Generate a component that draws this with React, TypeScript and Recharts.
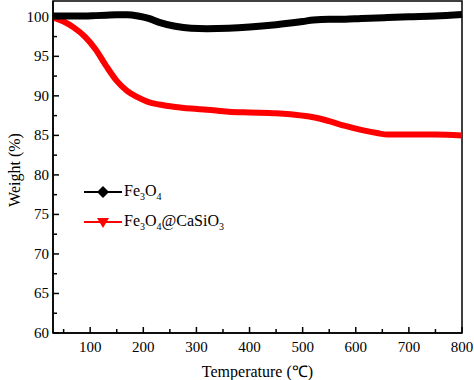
import React from 'react';
import { LineChart, Line, XAxis, YAxis, ReferenceArea } from 'recharts';

const temps = [30, 50, 70, 90, 110, 130, 150, 170, 190, 210, 230, 260, 290, 320, 360, 400, 450, 500, 520, 550, 580, 610, 640, 660, 700, 750, 800];
const fe3o4 = [100.1, 100.1, 100.1, 100.1, 100.15, 100.2, 100.25, 100.25, 100.1, 99.8, 99.3, 98.8, 98.55, 98.5, 98.55, 98.7, 99.0, 99.4, 99.6, 99.7, 99.7, 99.8, 99.85, 99.9, 100.0, 100.1, 100.3];
const fe3o4CaSiO3 = [99.9, 99.4, 98.6, 97.5, 95.9, 93.8, 91.9, 90.6, 89.8, 89.2, 88.9, 88.6, 88.4, 88.25, 88.0, 87.9, 87.8, 87.5, 87.3, 86.8, 86.2, 85.7, 85.3, 85.1, 85.1, 85.1, 85.0];

const xTicks = [50, 100, 150, 200, 250, 300, 350, 400, 450, 500, 550, 600, 650, 700, 750, 800];
const yTicks = [60, 62.5, 65, 67.5, 70, 72.5, 75, 77.5, 80, 82.5, 85, 87.5, 90, 92.5, 95, 97.5, 100];

const data = temps.map((t, i) => ({ t, a: fe3o4[i], b: fe3o4CaSiO3[i] }));

const font = "'Liberation Serif', 'Times New Roman', serif";

const XTick = (props: any) => {
  const { x, y, payload } = props;
  const major = payload.value % 100 === 0;
  return (
    <g>
      <line x1={x} x2={x} y1={y} y2={y - (major ? 6 : 4)} stroke="#000" strokeWidth={1.5} />
      {major && (
        <text x={x} y={y + 19} textAnchor="middle" fontSize={15} style={{ fontFamily: font }} fill="#000">
          {payload.value}
        </text>
      )}
    </g>
  );
};

const YTick = (props: any) => {
  const { x, y, payload } = props;
  const major = payload.value % 5 === 0;
  return (
    <g>
      <line x1={x} x2={x + (major ? 6 : 4)} y1={y} y2={y} stroke="#000" strokeWidth={1.5} />
      {major && (
        <text x={x - 4} y={y + 5} textAnchor="end" fontSize={15} style={{ fontFamily: font }} fill="#000">
          {payload.value}
        </text>
      )}
    </g>
  );
};

const YLabel = () => (
  <text transform="translate(20,170) rotate(-90)" textAnchor="middle" fontSize={16} style={{ fontFamily: font }} fill="#000">
    Weight (%)
  </text>
);

const Legend = () => (
  <div style={{ position: 'absolute', left: 84, top: 180, fontFamily: font, fontSize: 16, color: '#000' }}>
    <div style={{ display: 'flex', alignItems: 'center', height: 24 }}>
      <svg width={38} height={14}>
        <line x1={0} x2={38} y1={7} y2={7} stroke="#000" strokeWidth={2} />
        <polygon points="19,1 25,7 19,13 13,7" fill="#000" />
      </svg>
      <span style={{ marginLeft: 2 }}>
        Fe<sub style={{ fontSize: 10 }}>3</sub>O<sub style={{ fontSize: 10 }}>4</sub>
      </span>
    </div>
    <div style={{ display: 'flex', alignItems: 'center', height: 24, marginTop: 6 }}>
      <svg width={38} height={14}>
        <line x1={0} x2={38} y1={7} y2={7} stroke="#ff0000" strokeWidth={2} />
        <polygon points="13,3 25,3 19,13" fill="#ff0000" />
      </svg>
      <span style={{ marginLeft: 2 }}>
        Fe<sub style={{ fontSize: 10 }}>3</sub>O<sub style={{ fontSize: 10 }}>4</sub>@CaSiO<sub style={{ fontSize: 10 }}>3</sub>
      </span>
    </div>
  </div>
);

const App: React.FC = () => {
  return (
    <div style={{ position: 'absolute', left: 0, top: 0, width: 474, height: 380, background: '#fff' }}>
      <LineChart width={474} height={380} data={data} margin={{ top: 1, right: 12, left: 13, bottom: 0 }}>
        <XAxis
          dataKey="t"
          type="number"
          domain={[30, 800]}
          ticks={xTicks}
          interval={0}
          tickSize={0}
          tickMargin={0}
          tick={<XTick />}
          axisLine={{ stroke: '#000', strokeWidth: 1.5 }}
          height={47}
          label={{ value: 'Temperature (℃)', position: 'insideBottom', offset: 3, fontSize: 16, style: { fontFamily: font }, fill: '#000' }}
        />
        <YAxis
          type="number"
          domain={[60, 102]}
          ticks={yTicks}
          interval={0}
          tickSize={0}
          tickMargin={0}
          tick={<YTick />}
          axisLine={{ stroke: '#000', strokeWidth: 1.5 }}
          width={40}
          label={{ content: () => <YLabel /> }}
        />
        <ReferenceArea x1={30} x2={800} y1={60} y2={102} fill="none" stroke="#000" strokeWidth={1.5} />
        <Line type="monotone" dataKey="b" stroke="#ff0000" strokeWidth={6} dot={false} isAnimationActive={false} />
        <Line type="monotone" dataKey="a" stroke="#000" strokeWidth={7} dot={false} isAnimationActive={false} />
      </LineChart>
      <Legend />
    </div>
  );
};

export default App;
